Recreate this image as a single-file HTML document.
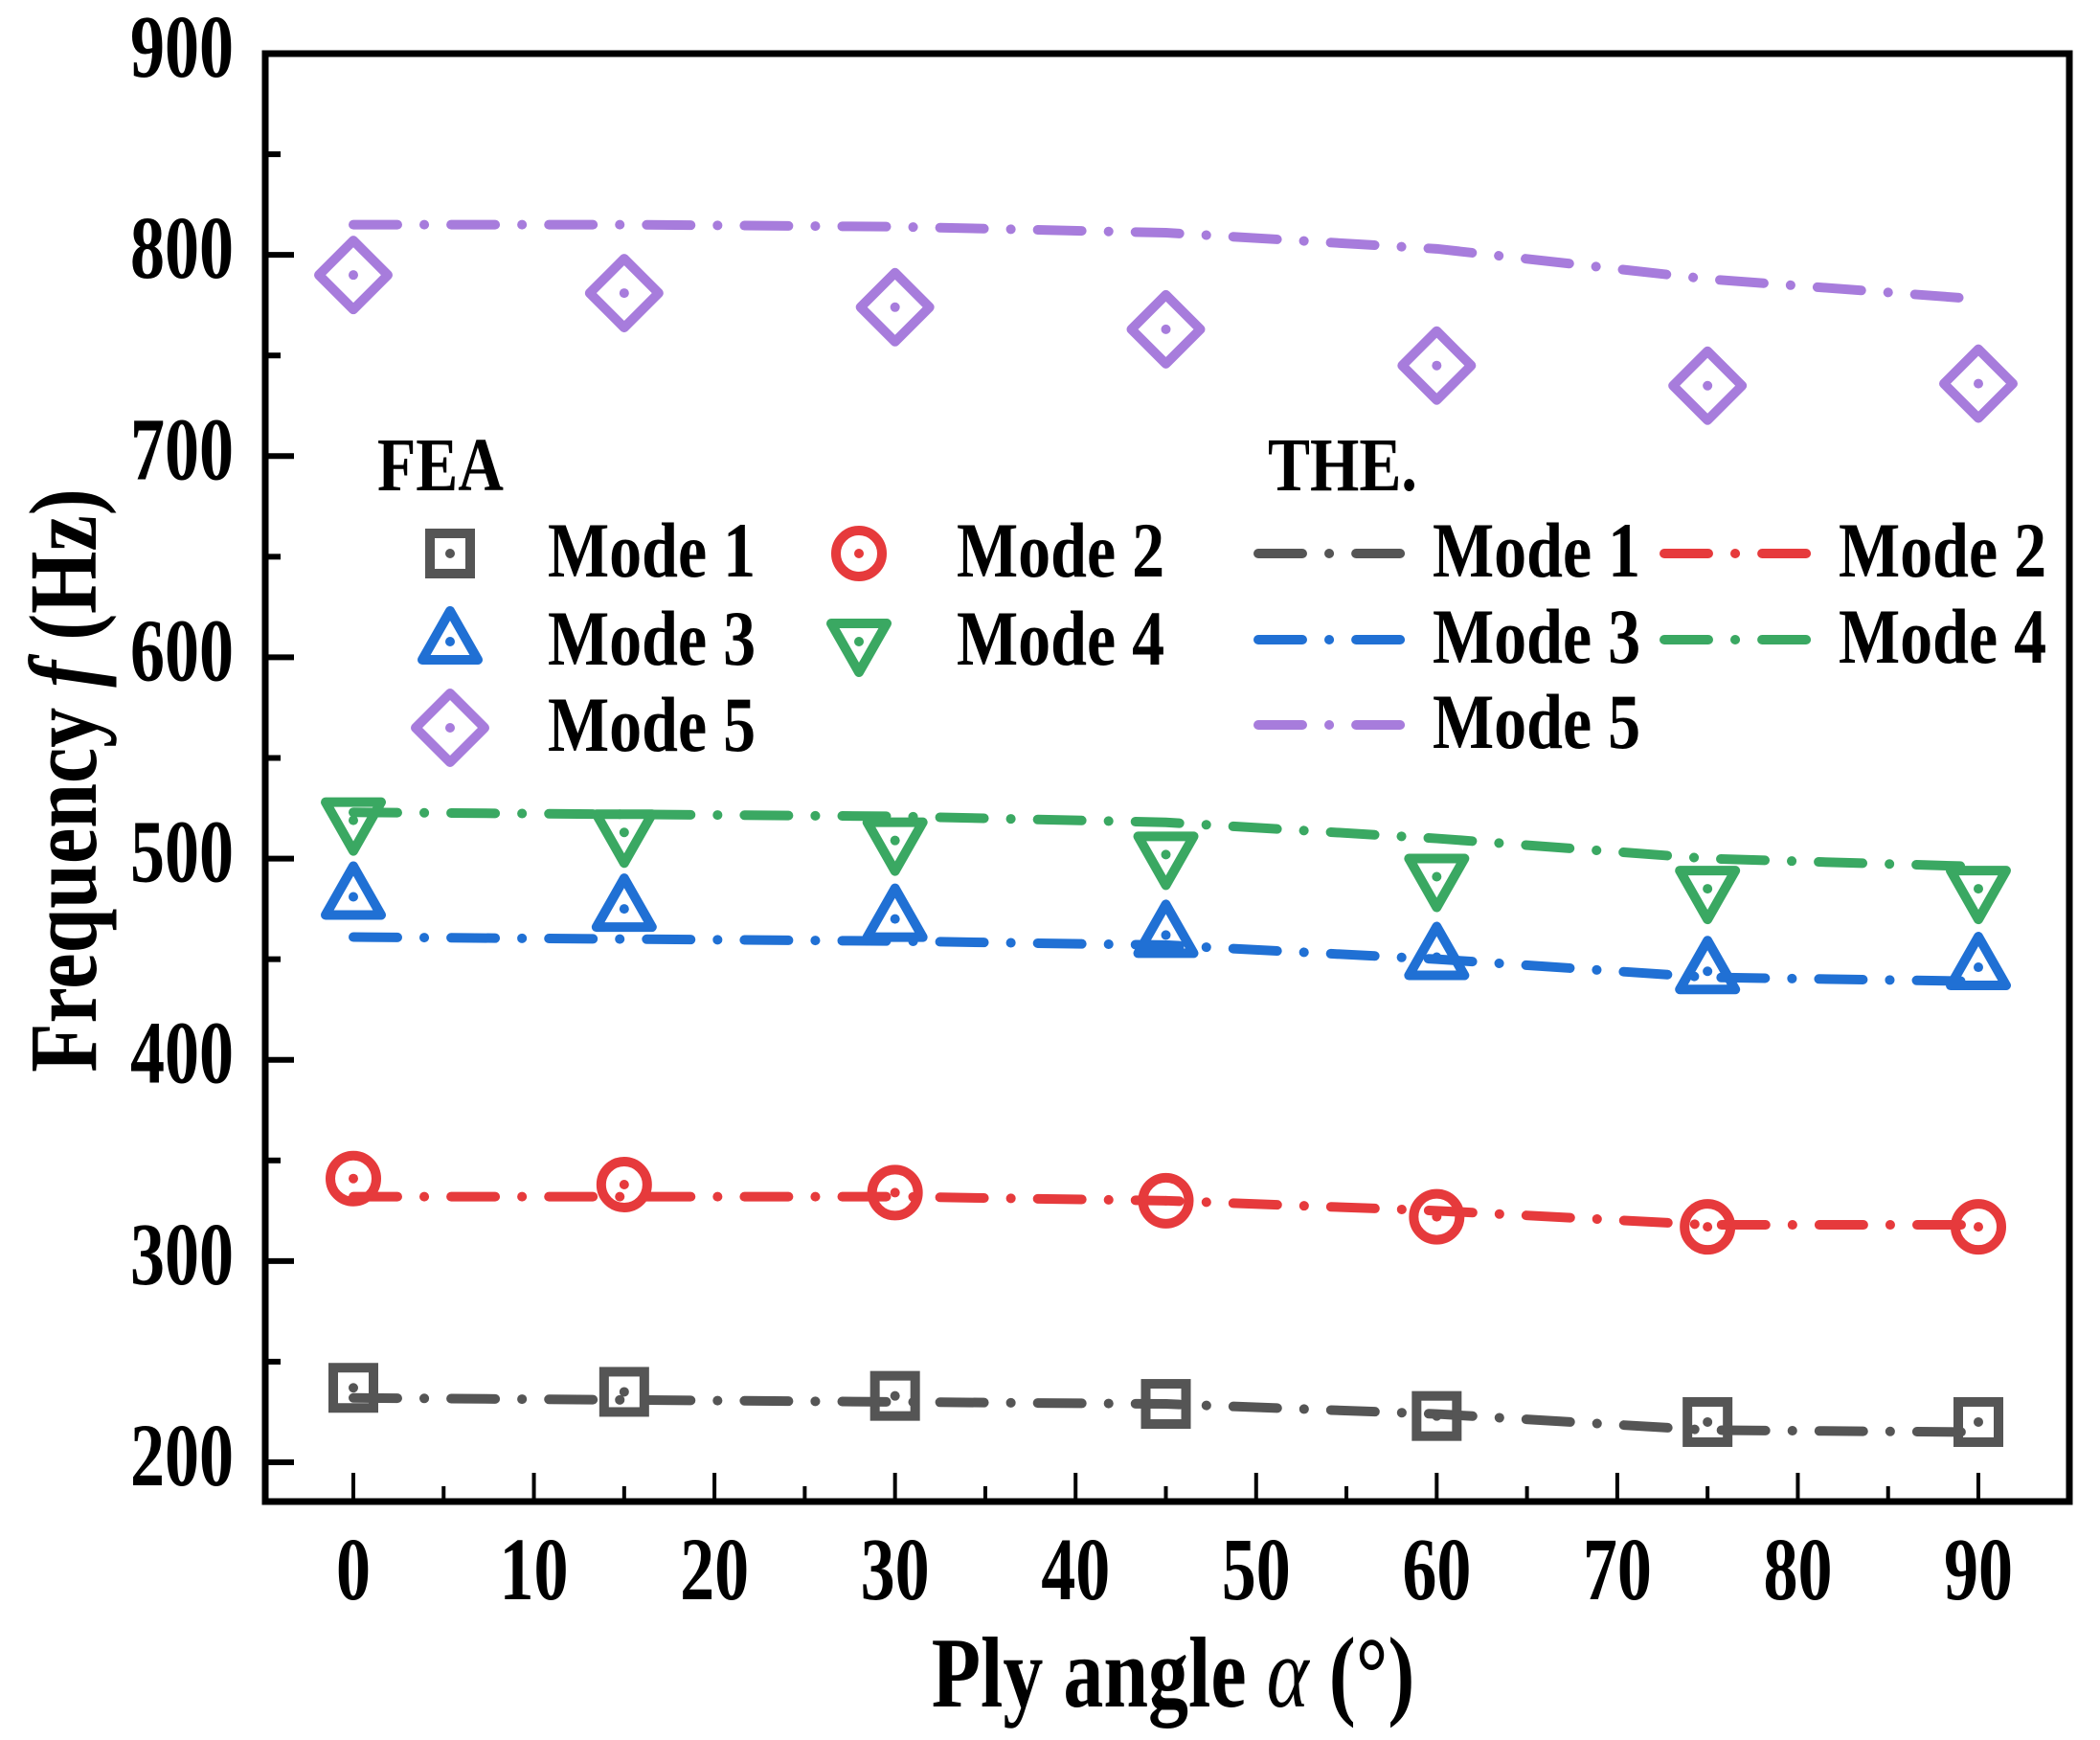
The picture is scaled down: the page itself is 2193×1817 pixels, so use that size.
<!DOCTYPE html>
<html><head><meta charset="utf-8"><style>
html,body{margin:0;padding:0;background:#fff;}
svg{display:block;}
text{font-family:"Liberation Serif",serif;font-weight:bold;fill:#000;}
</style></head><body>
<svg width="2193" height="1817" viewBox="0 0 2193 1817" xmlns="http://www.w3.org/2000/svg">
</svg>
<script>
const NS="http://www.w3.org/2000/svg";
const svg=document.querySelector('svg');
function el(t,a,p){const e=document.createElementNS(NS,t);for(const k in a)e.setAttribute(k,a[k]);(p||svg).appendChild(e);return e;}
function txt(x,y,s,size,anchor,sy,html){const t=el('text',{x:0,y:0,'font-size':size,'text-anchor':anchor||'start',transform:`translate(${x},${y}) scale(1,${sy||1.2})`});if(html)t.innerHTML=s;else t.textContent=s;return t;}
const X=v=>369+v*(2066-369)/90;
const Y=v=>1527-(v-200)*(1527-56)/700;
el('rect',{x:277,y:56,width:2161-277,height:1568-56,fill:'none',stroke:'#000','stroke-width':7});
for(let v=200;v<=900;v+=50){const y=Y(v);const L=(v%100==0)?30:16;el('line',{x1:277,y1:y,x2:277+L,y2:y,stroke:'#000','stroke-width':6});
 if(v%100==0)txt(244,y+24,String(v),72,'end',1.3);}
for(let v=0;v<=90;v+=5){const x=X(v);const L=(v%10==0)?30:16;el('line',{x1:x,y1:1568,x2:x,y2:1568-L,stroke:'#000','stroke-width':4});
 if(v%10==0)txt(x,1670,String(v),72,'middle',1.3);}
txt(1225,1782,'Ply angle <tspan font-style="italic" font-weight="normal">α</tspan> (°)',84,'middle',1.25,true);
const yt=el('text',{x:0,y:0,'font-size':84,'text-anchor':'middle',transform:'translate(100,815) rotate(-90) scale(1,1.2)'});
yt.innerHTML='Frequency <tspan font-style="italic">f</tspan> (Hz)';
const C=['#555555','#e63a3c','#2070d4','#3aa862','#a77cdc'];
const ang=[0,15,30,45,60,75,90];
const THE=[[232,231,230,229,224,216,215],[332,332,332,330,325,318,318],[461,460,459,457,450,441,439],[523,522,521,518,510,500,496],[815,815,814,811,803,788,778]];
const FEA=[[237,235,233,229,223,220,220],[341,338,334,330,322,317,317],[481,475,470,462,451,444,446],[519,513,509,502,491,485,485],[790,781,774,763,745,735,736]];
const dash='46 28 0.1 28';
THE.forEach((s,i)=>{el('polyline',{points:s.map((v,j)=>X(ang[j])+','+Y(v)).join(' '),fill:'none',stroke:C[i],'stroke-width':10,'stroke-linecap':'round','stroke-dasharray':dash});});
function marker(i,x,y){const c=C[i],sw=10;
 if(i==0)el('rect',{x:x-21,y:y-21,width:42,height:42,fill:'none',stroke:c,'stroke-width':sw});
 if(i==1)el('circle',{cx:x,cy:y,r:24,fill:'none',stroke:c,'stroke-width':sw});
 if(i==2)el('polygon',{points:`${x},${y-32} ${x+29},${y+19} ${x-29},${y+19}`,fill:'none',stroke:c,'stroke-width':sw,'stroke-linejoin':'round'});
 if(i==3)el('polygon',{points:`${x},${y+32} ${x+29},${y-19} ${x-29},${y-19}`,fill:'none',stroke:c,'stroke-width':sw,'stroke-linejoin':'round'});
 if(i==4)el('polygon',{points:`${x},${y-36} ${x+36},${y} ${x},${y+36} ${x-36},${y}`,fill:'none',stroke:c,'stroke-width':sw,'stroke-linejoin':'round'});
 el('circle',{cx:x,cy:y,r:5,fill:c});}
FEA.forEach((s,i)=>s.forEach((v,j)=>marker(i,X(ang[j]),Y(v))));
txt(394,512,'FEA',66,'start',1.2);
const fl=[[470,578],[897,578],[470,670],[897,670],[470,760]];
fl.forEach(([mx,my],i)=>{marker(i,mx,my);txt(mx+102,my+24,'Mode '+(i+1),68,'start',1.2);});
txt(1324,512,'THE.',66,'start',1.2);
const tl=[[1314,578],[1738,578],[1314,668],[1738,668],[1314,757]];
tl.forEach(([lx,ly],i)=>{el('line',{x1:lx,y1:ly,x2:lx+165,y2:ly,stroke:C[i],'stroke-width':10,'stroke-linecap':'round','stroke-dasharray':dash});
 txt(lx+182,ly+24,'Mode '+(i+1),68,'start',1.2);});
</script>
</body></html>
